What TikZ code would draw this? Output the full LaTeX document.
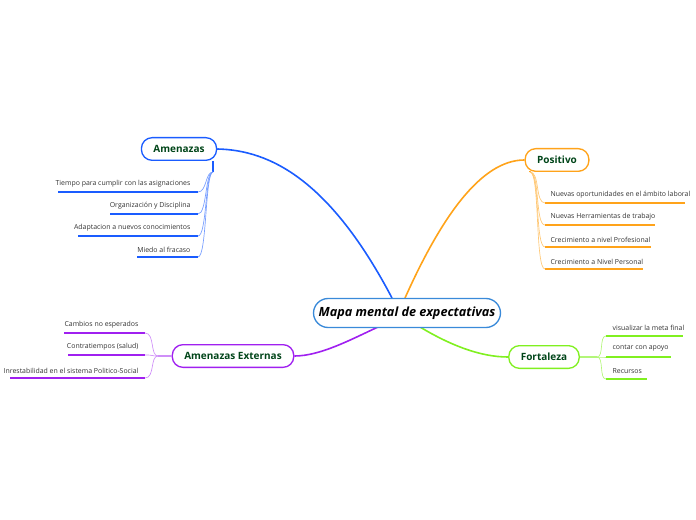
\documentclass[tikz,border=0pt]{standalone}
\usepackage{fontspec}
\setmainfont{Open Sans}
\begin{document}
\begin{tikzpicture}[x=0.75pt,y=-0.75pt,
  topic/.style={draw=#1,line width=1pt,rounded corners=8pt,fill=white,text=green!30!black!90!blue,font=\bfseries\fontsize{7.5}{9}\selectfont,minimum height=17pt,inner xsep=9pt},
  leaf/.style={font=\fontsize{5.2}{6}\selectfont,text=black!80,inner sep=1pt},
  uline/.style={draw=#1,line width=1.5pt},
  br/.style={draw=#1,line width=0.5pt}]
\useasboundingbox (0,0) rectangle (696,520);
\definecolor{cb}{HTML}{1A5CFF}\definecolor{co}{HTML}{FFA31A}
\definecolor{cp}{HTML}{A020F0}\definecolor{cg}{HTML}{80F020}
\definecolor{cc}{HTML}{3A8AD9}
% main connectors
\coordinate (c1) at (392,298);\coordinate (c2) at (405,298);
\coordinate (c3) at (378,327);\coordinate (c4) at (420,327);
\node[topic=cb] (am) at (179,149) {Amenazas};
\node[topic=co] (po) at (557,160) {Positivo};
\node[topic=cp] (ae) at (233,356) {Amenazas Externas};
\node[topic=cg] (fo) at (544,357) {Fortaleza};
\draw[cb,line width=1.2pt] (c1) .. controls (330,180) and (270,150) .. (am.east);
\draw[co,line width=1.2pt] (c2) .. controls (440,220) and (480,160) .. (po.west);
\draw[cp,line width=1.2pt] (c3) .. controls (350,340) and (320,356) .. (ae.east);
\draw[cg,line width=1.2pt] (c4) .. controls (450,345) and (480,357) .. (fo.west);
\node[draw=cc,line width=1pt,rounded corners=11pt,fill=white,minimum width=187*0.75pt,minimum height=29*0.75pt,font=\bfseries\itshape\fontsize{9.5}{11}\selectfont] (mm) at (407,313) {Mapa mental de expectativas};
% Amenazas leaves
\coordinate (ab) at (213,172);
\draw[cb,line width=1pt] (213,161)--(ab);
\foreach \n/\y/\x/\t in {a1/192/58/Tiempo para cumplir con las asignaciones,a2/214/110/Organización y Disciplina,a3/236/78/Adaptacion a nuevos conocimientos,a4/257/137/Miedo al fracaso}{
  \coordinate (\n e) at (198,\y);\coordinate (\n s) at (\x,\y);
  \draw[uline=cb] (\n s)--(\n e);
  \node[leaf,anchor=south east] (\n) at (192,\y-3) {\t};
  \draw[br=cb!60] (ab) .. controls (205,172) and (207,\y) .. (\n e);}
% Positivo leaves
\coordinate (pb) at (530,172);
\draw[co,line width=1pt] (530,171)--(pb);
\foreach \n/\y/\x/\t in {p1/203/685/Nuevas oportunidades en el ámbito laboral,p2/225/655/Nuevas Herramientas de trabajo,p3/247/651/Crecimiento a nivel Profesional,p4/269/643/Crecimiento a Nivel Personal}{
  \coordinate (\n s) at (545,\y);\coordinate (\n e) at (\x,\y);
  \draw[uline=co] (\n s)--(\n e);
  \node[leaf,anchor=south west] (\n) at (549,\y-3) {\t};
  \draw[br=co!60] (pb) .. controls (540,172) and (535,\y) .. (\n s);}
% Amenazas Externas leaves
\coordinate (eb) at (158,356);
\draw[br=cp!50,line width=0.8pt] (ae.west)--(eb);
\foreach \n/\y/\x/\t in {e1/333/64/Cambios no esperados,e2/355/68/Contratiempos (salud),e3/378/10/Inrestabilidad en el sistema Politico-Social}{
  \coordinate (\n e) at (145,\y);\coordinate (\n s) at (\x,\y);
  \draw[uline=cp] (\n s)--(\n e);
  \node[leaf,anchor=south east] (\n) at (140,\y-3) {\t};
  \draw[br=cp!50] (eb) .. controls (150,356) and (155,\y) .. (\n e);}
% Fortaleza leaves
\coordinate (fb) at (597,357);
\draw[br=cg!60,line width=0.8pt] (fo.east)--(fb);
\foreach \n/\y/\x/\t in {f1/336/683/visualizar la meta final,f2/357/671/contar con apoyo,f3/379/647/Recursos}{
  \coordinate (\n s) at (606,\y);\coordinate (\n e) at (\x,\y);
  \draw[uline=cg] (\n s)--(\n e);
  \node[leaf,anchor=south west] (\n) at (611,\y-4) {\t};
  \draw[br=cg!60] (fb) .. controls (604,357) and (599,\y) .. (\n s);}
\end{tikzpicture}
\end{document}
